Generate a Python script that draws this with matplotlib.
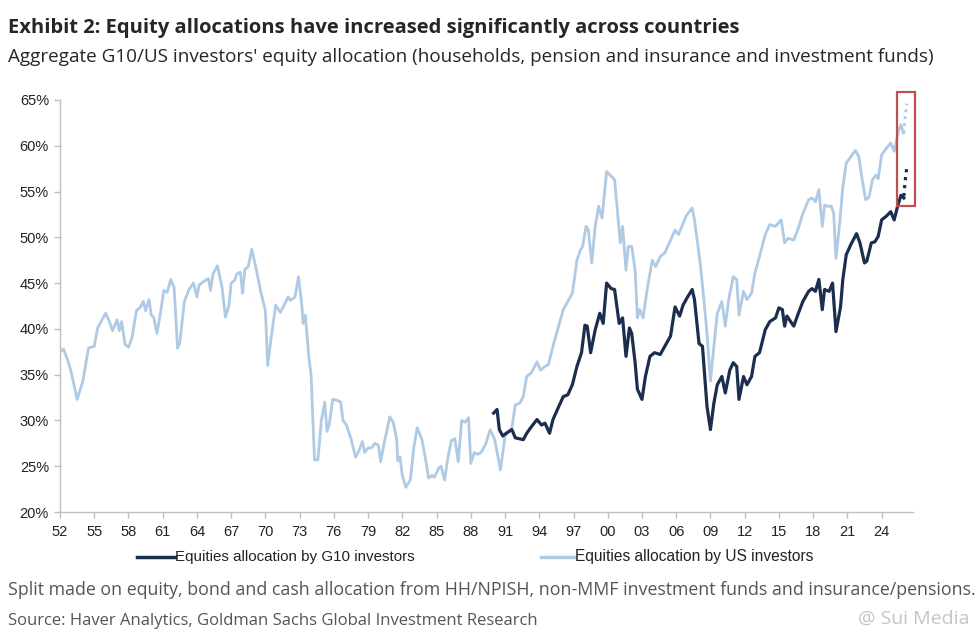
import matplotlib
matplotlib.use("Agg")
import matplotlib.pyplot as plt
from matplotlib.patches import Rectangle
from matplotlib.lines import Line2D

# US investors equity allocation (%)
us_years = [1952.0, 1952.3, 1952.7, 1953.0, 1953.5, 1954.0, 1954.5, 1955.0, 1955.3, 1955.6,
            1956.0, 1956.3, 1956.6, 1957.0, 1957.2, 1957.4, 1957.7, 1958.0, 1958.3, 1958.7,
            1959.0, 1959.3, 1959.5, 1959.8, 1960.0, 1960.2, 1960.5, 1960.9, 1961.1, 1961.4,
            1961.7, 1962.0, 1962.3, 1962.5, 1962.9, 1963.3, 1963.7, 1964.0, 1964.2, 1964.5,
            1965.0, 1965.2, 1965.4, 1965.8, 1966.2, 1966.5, 1966.8, 1967.0, 1967.3, 1967.5,
            1967.8, 1968.0, 1968.2, 1968.5, 1968.8, 1969.2, 1969.6, 1970.0, 1970.2, 1970.5,
            1970.9, 1971.3, 1971.6, 1972.0, 1972.2, 1972.6, 1972.9, 1973.2, 1973.3, 1973.5,
            1973.8, 1974.0, 1974.3, 1974.6, 1974.9, 1975.2, 1975.4, 1975.6, 1975.9, 1976.3,
            1976.6, 1976.8, 1977.1, 1977.5, 1977.9, 1978.2, 1978.5, 1978.7, 1979.0, 1979.3,
            1979.6, 1979.9, 1980.1, 1980.4, 1980.7, 1980.9, 1981.2, 1981.5, 1981.6, 1981.8,
            1982.0, 1982.3, 1982.7, 1983.0, 1983.3, 1983.7, 1984.0, 1984.3, 1984.6, 1984.8,
            1985.2, 1985.4, 1985.7, 1986.0, 1986.3, 1986.6, 1986.9, 1987.2, 1987.5, 1987.8,
            1988.0, 1988.3, 1988.6, 1988.9, 1989.3, 1989.7, 1990.1, 1990.6, 1991.0, 1991.6,
            1991.9, 1992.3, 1992.6, 1992.9, 1993.3, 1993.8, 1994.1, 1994.5, 1994.8, 1995.2,
            1995.7, 1996.1, 1996.5, 1996.9, 1997.3, 1997.6, 1997.8, 1998.1, 1998.3, 1998.6,
            1998.9, 1999.2, 1999.5, 1999.9, 2000.2, 2000.6, 2001.1, 2001.3, 2001.6, 2001.8,
            2002.1, 2002.4, 2002.6, 2002.8, 2003.1, 2003.4, 2003.9, 2004.2, 2004.6, 2005.0,
            2005.5, 2005.9, 2006.2, 2006.5, 2006.9, 2007.4, 2007.6, 2008.1, 2008.4, 2008.7,
            2009.0, 2009.3, 2009.6, 2010.0, 2010.3, 2010.6, 2011.0, 2011.3, 2011.5, 2011.9,
            2012.2, 2012.6, 2012.9, 2013.3, 2013.8, 2014.2, 2014.7, 2014.9, 2015.2, 2015.5,
            2015.8, 2016.3, 2016.7, 2017.1, 2017.6, 2017.9, 2018.2, 2018.5, 2018.8, 2019.0,
            2019.3, 2019.6, 2019.8, 2020.0, 2020.3, 2020.6, 2020.9, 2021.3, 2021.7, 2022.0,
            2022.3, 2022.6, 2022.9, 2023.2, 2023.5, 2023.7, 2024.0, 2024.4, 2024.8, 2025.1,
            2025.5, 2025.7, 2025.9]
us_values = [37.5, 37.8, 36.5, 35.2, 32.3, 34.3, 37.9, 38.1, 40.1, 40.8,
             41.7, 40.9, 39.8, 41.0, 39.8, 40.8, 38.3, 38.0, 39.0, 42.0,
             42.3, 43.0, 42.0, 43.2, 41.5, 41.3, 39.5, 42.5, 44.2, 44.0,
             45.4, 44.5, 37.9, 38.5, 43.0, 44.3, 45.0, 43.5, 44.8, 45.1,
             45.5, 44.2, 46.0, 46.9, 44.5, 41.3, 42.5, 45.0, 45.3, 46.0,
             46.2, 43.9, 46.5, 46.8, 48.7, 46.5, 44.0, 42.0, 36.0, 39.0,
             42.6, 41.8, 42.5, 43.5, 43.1, 43.5, 45.7, 42.5, 40.6, 41.5,
             37.0, 35.0, 25.7, 25.7, 30.0, 32.0, 28.8, 29.6, 32.3, 32.2,
             32.0, 30.0, 29.5, 28.0, 26.0, 26.7, 27.7, 26.5, 27.0, 27.0,
             27.5, 27.3, 25.5, 27.5, 29.2, 30.4, 29.8, 28.0, 25.6, 26.0,
             24.0, 22.7, 23.5, 27.0, 29.2, 28.0, 26.0, 23.7, 24.0, 23.8,
             24.8, 25.0, 23.5, 26.0, 27.8, 28.0, 25.5, 30.0, 29.8, 30.3,
             25.3, 26.5, 26.3, 26.5, 27.4, 29.0, 27.9, 24.6, 28.3, 29.2,
             31.7, 31.9, 32.6, 34.8, 35.2, 36.4, 35.5, 35.9, 36.1, 38.1,
             40.3, 42.1, 43.0, 43.9, 47.5, 48.6, 49.0, 51.2, 50.8, 47.2,
             51.2, 53.4, 52.1, 57.2, 56.8, 56.3, 49.4, 51.2, 46.4, 49.0,
             49.0, 46.4, 41.2, 42.1, 41.2, 43.9, 47.5, 46.8, 47.9, 48.3,
             49.7, 50.8, 50.3, 51.2, 52.4, 53.2, 51.9, 47.2, 43.5, 39.5,
             34.3, 38.1, 41.7, 43.0, 40.3, 43.2, 45.7, 45.4, 41.5, 44.1,
             43.2, 43.9, 46.1, 47.9, 50.3, 51.4, 51.2, 51.5, 51.9, 49.4,
             49.9, 49.7, 51.0, 52.6, 54.1, 54.3, 53.9, 55.2, 51.2, 53.5,
             53.4, 53.4, 52.6, 47.7, 51.2, 55.5, 58.1, 58.8, 59.5, 58.8,
             56.3, 54.1, 54.4, 56.3, 56.8, 56.4, 59.0, 59.7, 60.3, 59.4,
             61.7, 62.3, 61.4]

# G10 investors equity allocation (%)
g10_years = [1990.0, 1990.3, 1990.5, 1990.8, 1991.1, 1991.6, 1991.9, 1992.6, 1992.9, 1993.3,
             1993.8, 1994.2, 1994.5, 1994.9, 1995.2, 1995.7, 1996.1, 1996.5, 1996.9, 1997.3,
             1997.7, 1998.0, 1998.2, 1998.5, 1998.9, 1999.3, 1999.6, 1999.9, 2000.3, 2000.6,
             2001.0, 2001.3, 2001.6, 2001.9, 2002.1, 2002.4, 2002.6, 2003.0, 2003.3, 2003.7,
             2004.1, 2004.6, 2005.0, 2005.5, 2005.9, 2006.3, 2006.6, 2007.0, 2007.4, 2007.6,
             2008.0, 2008.3, 2008.7, 2009.0, 2009.3, 2009.6, 2010.0, 2010.3, 2010.7, 2011.0,
             2011.3, 2011.5, 2011.9, 2012.2, 2012.6, 2012.9, 2013.3, 2013.8, 2014.2, 2014.7,
             2015.0, 2015.3, 2015.5, 2015.7, 2016.3, 2016.7, 2017.1, 2017.6, 2017.9, 2018.2,
             2018.5, 2018.8, 2019.0, 2019.4, 2019.7, 2020.0, 2020.4, 2020.6, 2020.9, 2021.3,
             2021.8, 2022.1, 2022.5, 2022.7, 2023.1, 2023.4, 2023.7, 2024.0, 2024.4, 2024.8,
             2025.1, 2025.4, 2025.7, 2025.95]
g10_values = [30.8, 31.2, 29.0, 28.3, 28.6, 29.0, 28.1, 27.9, 28.6, 29.3,
              30.1, 29.5, 29.7, 28.6, 30.1, 31.5, 32.6, 32.8, 33.9, 35.9,
              37.4, 40.4, 40.3, 37.4, 39.9, 41.7, 40.6, 45.0, 44.4, 44.3,
              40.6, 41.2, 37.0, 40.1, 39.5, 36.3, 33.4, 32.3, 34.8, 37.0,
              37.4, 37.2, 38.1, 39.2, 42.4, 41.4, 42.6, 43.5, 44.3, 43.2,
              38.4, 38.1, 31.5, 29.0, 31.9, 33.9, 34.8, 33.0, 35.5, 36.3,
              35.9, 32.3, 34.8, 33.9, 34.8, 37.0, 37.4, 39.9, 40.8, 41.2,
              42.3, 42.1, 40.3, 41.4, 40.3, 41.7, 43.0, 44.1, 44.4, 44.1,
              45.4, 42.1, 44.3, 44.1, 45.0, 39.7, 42.4, 45.4, 48.1, 49.2,
              50.4, 49.4, 47.2, 47.4, 49.4, 49.5, 50.1, 51.9, 52.3, 52.8,
              51.9, 53.4, 54.6, 54.3]

# dotted projections inside the red box
us_proj_years = [2025.95, 2026.05, 2026.2]
us_proj_values = [61.4, 63.0, 64.6]
g10_proj_years = [2025.95, 2026.05, 2026.2]
g10_proj_values = [54.5, 56.0, 57.6]

x_ticks = list(range(1952, 2025, 3))
x_labels = [f"{t % 100:02d}" for t in x_ticks]
y_ticks = list(range(20, 66, 5))
y_labels = [f"{t}%" for t in y_ticks]

DARK = "#1b2e4d"
LIGHT = "#aecae4"
AXIS = "#bfbfbf"
sans = ["Open Sans", "DejaVu Sans"]
arial = ["Liberation Sans", "DejaVu Sans"]

W, H = 975, 643
fig = plt.figure(figsize=(W / 100, H / 100), dpi=100)
ax = fig.add_axes([60 / W, 1 - 512 / H, 853 / W, 412 / H])

ax.plot(us_years, us_values, color=LIGHT, lw=2.0)
ax.plot(g10_years, g10_values, color=DARK, lw=2.3)
ax.plot(us_proj_years, us_proj_values, color=LIGHT, lw=2.0, ls=(0, (1, 1.5)))
ax.plot(g10_proj_years, g10_proj_values, color=DARK, lw=2.3, ls=(0, (1, 1.5)))

ax.add_patch(Rectangle((2025.35, 53.4), 1.58, 12.5, fill=False, ec="#c0504d", lw=1.6,
                       clip_on=False, zorder=5))

ax.set_xlim(1952, 2026.75)
ax.set_ylim(20, 65)
ax.set_xticks(x_ticks)
ax.set_xticklabels(x_labels, family=arial, fontsize=10.5)
ax.set_yticks(y_ticks)
ax.set_yticklabels(y_labels, family=arial, fontsize=10.5)
ax.tick_params(axis="both", colors=AXIS, labelcolor="#222222", length=4, width=1)
ax.tick_params(axis="x", pad=5)
ax.tick_params(axis="y", pad=4)
for side in ["top", "right"]:
    ax.spines[side].set_visible(False)
for side in ["left", "bottom"]:
    ax.spines[side].set_color(AXIS)
    ax.spines[side].set_linewidth(1)

renderer = fig.canvas.get_renderer()


def fit_text(x, y, s, width, size, **kw):
    # place text, then rescale its size so it spans the width seen in the reference
    t = fig.text(x / W, 1 - y / H, s, fontsize=size, **kw)
    w = t.get_window_extent(renderer).width
    t.set_fontsize(size * width / w)
    return t


fit_text(8, 33, "Exhibit 2: Equity allocations have increased significantly across countries",
         733, 16, family=sans, fontweight="bold", color="#262626", va="baseline")
fit_text(8, 62, "Aggregate G10/US investors' equity allocation (households, pension and insurance and investment funds)",
         930, 14, family=sans, color="#262626", va="baseline")
fit_text(8, 595, "Split made on equity, bond and cash allocation from HH/NPISH, non-MMF investment funds and insurance/pensions.",
         962, 12, family=sans, color="#555555", va="baseline")
fit_text(8, 625, "Source: Haver Analytics, Goldman Sachs Global Investment Research",
         527, 12, family=sans, color="#555555", va="baseline")
fig.text(970 / W, 1 - 619 / H, "@ Sui Media", family=sans, fontsize=14,
         color="#c4c4c4", va="center", ha="right")

# legend entries: line sample followed directly by its label
legend_items = [("Equities allocation by G10 investors", DARK, 137, 175, 238),
                ("Equities allocation by US investors", LIGHT, 541, 575, 237)]
for label, color, x0, x1, tw in legend_items:
    fig.add_artist(Line2D([x0 / W, x1 / W], [1 - 557 / H, 1 - 557 / H],
                          color=color, lw=2.5, transform=fig.transFigure))
    fit_text(x1, 557, label, tw, 11, family=arial, color="#222222", va="center")

fig.savefig("out.png", dpi=100)
